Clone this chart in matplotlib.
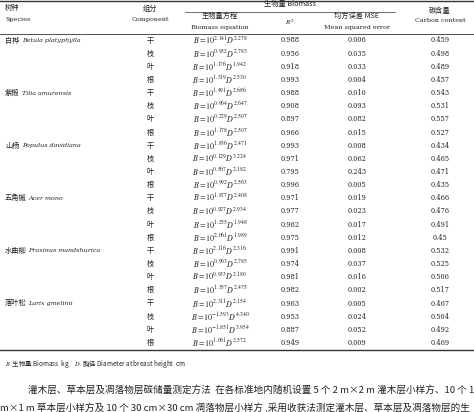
import matplotlib
matplotlib.use("Agg")
import matplotlib.pyplot as plt
from matplotlib.lines import Line2D

plt.rcParams['font.family'] = ['Noto Sans CJK SC', 'DejaVu Sans']
plt.rcParams['mathtext.fontset'] = 'stix'

species = [("白桦", "Betula platyphylla"), ("紫椴", "Tilia amurensis"), ("山杨", "Populus davidiana"),
           ("五角槭", "Acer mono"), ("水曲柳", "Fraxinus mandshurica"), ("落叶松", "Larix gmelinii")]
components = ["干", "枝", "叶", "根"]
exp_a = ["2.141", "0.952", "1.176", "1.319", "1.491", "0.964", "0.229", "1.178",
         "1.836", "0.129", "0.567", "0.992", "1.877", "0.927", "1.255", "2.061",
         "2.116", "0.963", "0.933", "1.357", "2.311", "-1.593", "-1.851", "1.061"]
exp_b = ["2.278", "2.783", "1.942", "2.530", "2.686", "2.647", "2.507", "2.507",
         "2.471", "3.224", "2.182", "2.563", "2.408", "2.934", "1.948", "1.989",
         "2.316", "2.785", "2.180", "2.475", "2.154", "4.340", "3.954", "2.572"]
r2 = ["0.988", "0.956", "0.918", "0.993", "0.988", "0.908", "0.897", "0.966",
      "0.993", "0.971", "0.795", "0.996", "0.971", "0.977", "0.962", "0.975",
      "0.991", "0.974", "0.981", "0.982", "0.963", "0.953", "0.887", "0.949"]
mse = ["0.006", "0.035", "0.033", "0.004", "0.010", "0.093", "0.082", "0.015",
       "0.008", "0.062", "0.243", "0.005", "0.019", "0.023", "0.017", "0.012",
       "0.008", "0.037", "0.016", "0.002", "0.005", "0.024", "0.052", "0.009"]
carbon = ["0.459", "0.498", "0.489", "0.457", "0.543", "0.531", "0.557", "0.527",
          "0.434", "0.465", "0.471", "0.435", "0.466", "0.476", "0.491", "0.45",
          "0.532", "0.525", "0.506", "0.517", "0.467", "0.504", "0.492", "0.469"]

W, H = 474, 412
fig = plt.figure(figsize=(W/100, H/100), dpi=100)
fs = 5.2
col = '#222222'

def T(x, y, s, ha='center', size=fs, **kw):
    fig.text(x/W, 1 - y/H, s, ha=ha, va='center', fontsize=size, color=col, **kw)

def HL(x0, x1, y, lw=0.8):
    fig.add_artist(Line2D([x0/W, x1/W], [1 - y/H, 1 - y/H], color='#333333', lw=lw))

HL(0, W, 1, 1.0)
HL(185, 395, 11.5, 0.5)
HL(0, W, 33.5, 0.6)
HL(0, W, 350, 1.0)

T(5, 8, "树种", ha='left')
T(5, 20, "Species", ha='left', family='DejaVu Serif', size=4.6)
T(150, 9, "组分")
T(150, 20, "Component", family='DejaVu Serif', size=4.6)
T(290, 4, "生物量 Biomass")
T(220, 16, "生物量方程")
T(220, 27, "Biomass equation", family='DejaVu Serif', size=4.6)
T(290, 22, r"$R^2$")
T(357, 16, "均方误差 MSE")
T(357, 27, "Mean squared error", family='DejaVu Serif', size=4.6)
T(440, 11, "碳含量")
T(440, 20, "Carbon content", family='DejaVu Serif', size=4.6)

y0, dy = 40.5, 13.15
for i in range(24):
    y = y0 + i * dy
    if i % 4 == 0:
        cn, la = species[i // 4]
        T(5, y, cn, ha='left')
        T(5 + len(cn) * 6.5 + 4, y, la, ha='left', family='DejaVu Serif', style='italic', size=4.6)
    T(150, y, components[i % 4])
    T(220, y, r"$B=10^{%s}D^{%s}$" % (exp_a[i], exp_b[i]), size=5.8)
    T(290, y, r2[i], family='DejaVu Serif', size=4.8)
    T(357, y, mse[i], family='DejaVu Serif', size=4.8)
    T(440, y, carbon[i], family='DejaVu Serif', size=4.8)

T(5, 364, r"$B$  生物量 Biomass  kg     $D$  胸径 Diameter at breast height  cm", ha='left', size=4.6)
T(28, 390, "灌木层、草本层及凋落物层碳储量测定方法  在各标准地内随机设置 5 个 2 m×2 m 灌木层小样方、10 个 1", ha='left', size=6.9)
T(0, 408, "m×1 m 草本层小样方及 10 个 30 cm×30 cm 凋落物层小样方 ,采用收获法测定灌木层、草本层及凋落物层的生", ha='left', size=6.9)

fig.savefig("out.png", dpi=100)
